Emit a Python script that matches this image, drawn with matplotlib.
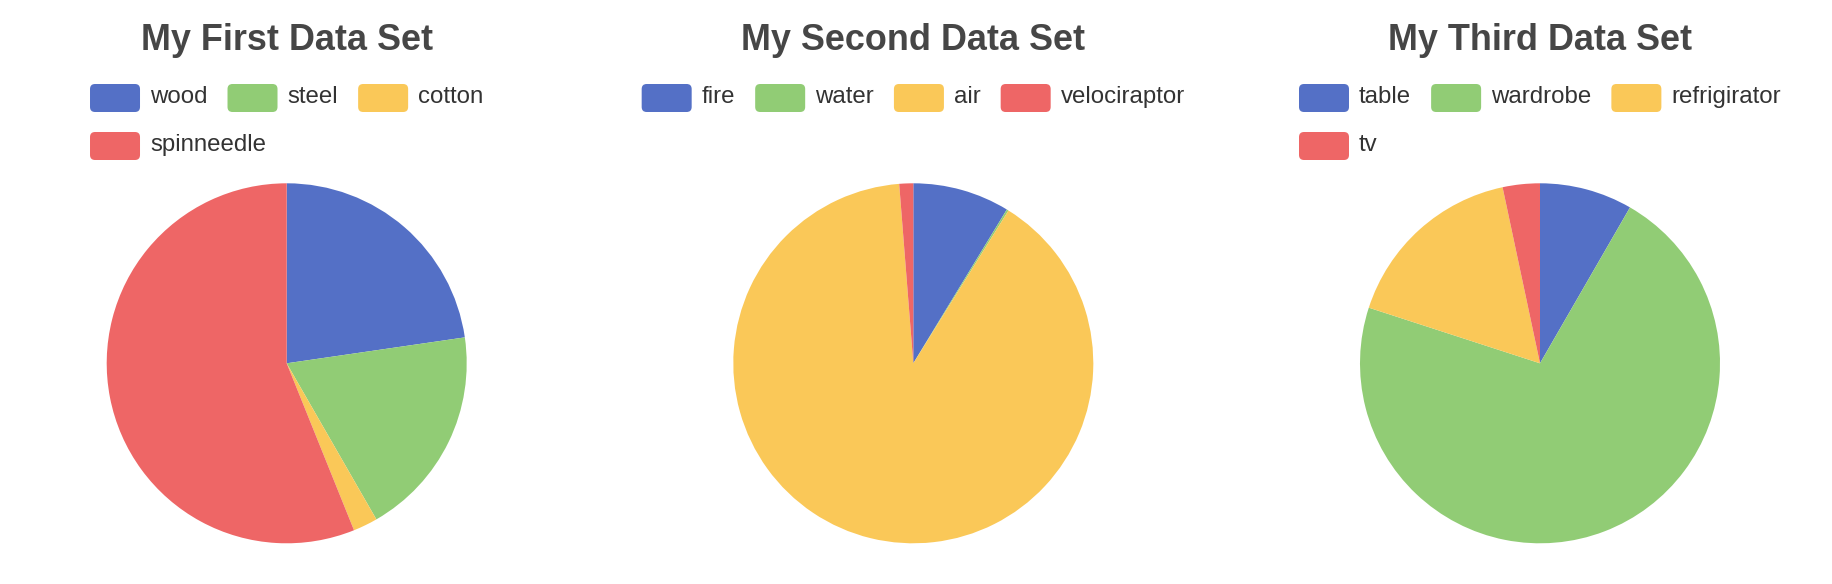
import matplotlib
matplotlib.use("Agg")
import matplotlib.pyplot as plt
from matplotlib.patches import FancyBboxPatch

W, H = 1832, 584

colors = ["#5470c6", "#91cc75", "#fac858", "#ee6666"]

titles = ["My First Data Set", "My Second Data Set", "My Third Data Set"]

labels_1 = ["wood", "steel", "cotton", "spinneedle"]
values_1 = [22.7, 19.0, 2.2, 56.1]

labels_2 = ["fire", "water", "air", "velociraptor"]
values_2 = [8.7, 0.17, 89.9, 1.25]

labels_3 = ["table", "wardrobe", "refrigirator", "tv"]
values_3 = [5, 43, 10, 2]

all_labels = [labels_1, labels_2, labels_3]
all_values = [values_1, values_2, values_3]

# layout in pixels (y measured from top)
centers_x = [286.7, 913.3, 1540]
pie_cy = 363.3
pie_r = 180
title_base = 50
legend_top = 98        # centre of first legend row
row_step = 48
box_w, box_h = 50, 28
text_gap = 10
item_gap = 20
max_row = 560

fig = plt.figure(figsize=(W / 100, H / 100), dpi=100)
ax = fig.add_axes([0, 0, 1, 1])


def py(y):
    return H - y


for k in range(3):
    cx = centers_x[k]
    ax.pie(all_values[k], colors=colors, startangle=90, counterclock=False,
           center=(cx, py(pie_cy)), radius=pie_r,
           wedgeprops=dict(linewidth=0.6, edgecolor="none"))

ax.set_xlim(0, W)
ax.set_ylim(0, H)
ax.set_aspect("auto")
ax.axis("off")

renderer = fig.canvas.get_renderer()

for k in range(3):
    cx = centers_x[k]
    ax.text(cx, py(title_base), titles[k], ha="center", va="baseline",
            fontsize=25.9, fontweight="bold", color="#464646",
            family="Liberation Sans")

    # measure legend items, then wrap into rows
    widths = []
    for lab in all_labels[k]:
        t = ax.text(0, 0, lab, fontsize=17.28, family="Liberation Sans")
        widths.append(t.get_window_extent(renderer).width)
        t.remove()
    items = [box_w + text_gap + w for w in widths]
    rows = [[]]
    cur = 0
    for i, iw in enumerate(items):
        need = iw if not rows[-1] else cur + item_gap + iw
        if rows[-1] and need > max_row:
            rows.append([i])
            cur = iw
        else:
            rows[-1].append(i)
            cur = need
    row_w = [sum(items[i] for i in r) + item_gap * (len(r) - 1) for r in rows]
    left = cx - max(row_w) / 2

    for ri, r in enumerate(rows):
        yc = legend_top + ri * row_step
        x = left
        for i in r:
            ax.add_patch(FancyBboxPatch((x, py(yc + box_h / 2)), box_w, box_h,
                                        boxstyle="round,pad=0,rounding_size=5",
                                        facecolor=colors[i], edgecolor="none"))
            ax.text(x + box_w + text_gap, py(yc + 5.4), all_labels[k][i],
                    ha="left", va="baseline", fontsize=17.28, color="#333333",
                    family="Liberation Sans")
            x += items[i] + item_gap

fig.savefig("out.png", dpi=100, facecolor="white")
